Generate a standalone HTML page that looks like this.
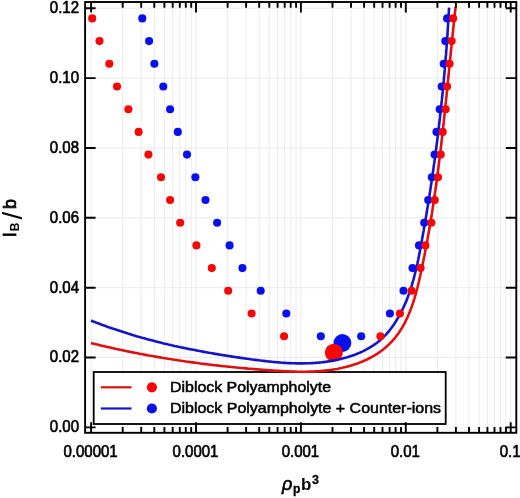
<!DOCTYPE html><html><head><meta charset="utf-8"><style>html,body{margin:0;padding:0;background:#fff;width:520px;height:498px;overflow:hidden}svg{display:block}text{font-family:"Liberation Sans",sans-serif}</style></head><body>
<svg width="520" height="498" viewBox="0 0 520 498">
<path d="M91.1,2.0V432.8M122.7,2.0V432.8M141.2,2.0V432.8M154.3,2.0V432.8M164.4,2.0V432.8M172.7,2.0V432.8M179.8,2.0V432.8M185.8,2.0V432.8M191.2,2.0V432.8M196.0,2.0V432.8M227.6,2.0V432.8M246.1,2.0V432.8M259.2,2.0V432.8M269.3,2.0V432.8M277.6,2.0V432.8M284.7,2.0V432.8M290.7,2.0V432.8M296.1,2.0V432.8M300.9,2.0V432.8M332.5,2.0V432.8M351.0,2.0V432.8M364.1,2.0V432.8M374.2,2.0V432.8M382.5,2.0V432.8M389.6,2.0V432.8M395.6,2.0V432.8M401.0,2.0V432.8M405.8,2.0V432.8M437.4,2.0V432.8M455.9,2.0V432.8M469.0,2.0V432.8M479.1,2.0V432.8M487.4,2.0V432.8M494.5,2.0V432.8M500.5,2.0V432.8M505.9,2.0V432.8M510.7,2.0V432.8M85.1,357.5H516.3M85.1,287.7H516.3M85.1,217.8H516.3M85.1,148.0H516.3M85.1,78.1H516.3M85.1,8.2H516.3" stroke="#ebebeb" stroke-width="1" fill="none"/>
<rect x="93.7" y="372.0" width="352.0" height="52.0" fill="#fff" stroke="#000" stroke-width="1.8"/>
<circle cx="342.4" cy="343.0" r="8.9" fill="#0810ee"/>
<circle cx="333.8" cy="352.7" r="9.0" fill="#f80606"/>
<path d="M90.9,343.0 L92.5,343.4 L94.1,343.8 L95.7,344.2 L97.4,344.6 L99.0,345.0 L100.6,345.4 L102.2,345.8 L103.8,346.1 L105.4,346.5 L107.1,346.9 L108.7,347.2 L110.3,347.6 L111.9,348.0 L113.5,348.3 L115.1,348.7 L116.7,349.0 L118.3,349.4 L120.0,349.7 L121.6,350.1 L123.2,350.4 L124.8,350.7 L126.4,351.1 L128.0,351.4 L129.6,351.7 L131.2,352.1 L132.8,352.4 L134.5,352.7 L136.1,353.0 L137.7,353.3 L139.3,353.7 L140.9,354.0 L142.5,354.3 L144.1,354.6 L145.7,354.9 L147.3,355.2 L148.9,355.5 L150.5,355.7 L152.2,356.0 L153.8,356.3 L155.4,356.6 L157.0,356.9 L158.6,357.2 L160.2,357.4 L161.8,357.7 L163.4,358.0 L165.0,358.2 L166.6,358.5 L168.3,358.8 L169.9,359.0 L171.5,359.3 L173.1,359.5 L174.7,359.8 L176.3,360.0 L177.9,360.3 L179.5,360.5 L181.2,360.8 L182.8,361.0 L184.4,361.2 L186.0,361.5 L187.6,361.7 L189.2,361.9 L190.8,362.2 L192.4,362.4 L194.1,362.6 L195.7,362.8 L197.3,363.0 L198.9,363.2 L200.5,363.5 L202.1,363.7 L203.8,363.9 L205.4,364.1 L207.0,364.3 L208.6,364.5 L210.2,364.7 L211.9,364.9 L213.5,365.1 L215.1,365.2 L216.7,365.4 L218.4,365.6 L220.0,365.8 L221.6,366.0 L223.2,366.2 L224.9,366.3 L226.5,366.5 L228.1,366.7 L229.7,366.8 L231.4,367.0 L233.0,367.2 L234.6,367.3 L236.3,367.5 L237.9,367.7 L239.5,367.8 L241.2,368.0 L242.8,368.1 L244.4,368.3 L246.1,368.4 L247.7,368.6 L249.3,368.7 L251.0,368.8 L252.6,369.0 L254.3,369.1 L255.9,369.3 L257.6,369.4 L259.2,369.5 L260.8,369.6 L262.5,369.8 L264.1,369.9 L265.8,370.0 L267.4,370.1 L269.1,370.3 L270.7,370.4 L272.4,370.5 L274.0,370.6 L275.7,370.7 L277.4,370.8 L279.0,370.9 L280.7,371.0 L282.3,371.1 L284.0,371.2 L285.6,371.3 L287.3,371.4 L289.0,371.4 L290.6,371.5 L292.3,371.5 L293.9,371.6 L295.6,371.6 L297.3,371.7 L298.9,371.7 L300.6,371.7 L302.2,371.7 L303.9,371.7 L305.5,371.7 L307.2,371.7 L308.8,371.6 L310.5,371.6 L312.1,371.5 L313.8,371.5 L315.4,371.4 L317.1,371.3 L318.7,371.2 L320.4,371.1 L322.0,370.9 L323.6,370.8 L325.3,370.6 L326.9,370.4 L328.5,370.2 L330.2,370.0 L331.8,369.8 L333.4,369.5 L335.1,369.2 L336.7,369.0 L338.3,368.7 L339.9,368.3 L341.5,368.0 L343.1,367.6 L344.7,367.2 L346.3,366.8 L347.9,366.4 L349.5,366.0 L351.1,365.5 L352.7,365.0 L354.3,364.5 L355.8,364.0 L357.4,363.4 L358.9,362.9 L360.5,362.3 L362.0,361.7 L363.5,361.0 L365.0,360.4 L366.5,359.7 L368.0,359.0 L369.4,358.2 L370.9,357.5 L372.3,356.7 L373.7,355.9 L375.1,355.1 L376.5,354.2 L377.8,353.3 L379.2,352.4 L380.5,351.5 L381.8,350.5 L383.1,349.6 L384.3,348.6 L385.5,347.5 L386.7,346.5 L387.9,345.4 L389.1,344.3 L390.2,343.2 L391.3,342.0 L392.4,340.9 L393.4,339.7 L394.5,338.5 L395.5,337.3 L396.4,336.0 L397.4,334.7 L398.3,333.5 L399.2,332.2 L400.1,330.8 L400.9,329.5 L401.8,328.2 L402.6,326.8 L403.4,325.4 L404.1,324.0 L404.9,322.6 L405.6,321.1 L406.3,319.7 L407.0,318.2 L407.7,316.8 L408.3,315.3 L409.0,313.8 L409.6,312.3 L410.2,310.8 L410.8,309.2 L411.3,307.7 L411.9,306.2 L412.4,304.6 L413.0,303.0 L413.5,301.5 L414.0,299.9 L414.5,298.3 L414.9,296.7 L415.4,295.1 L415.9,293.5 L416.3,291.9 L416.7,290.2 L417.2,288.6 L417.6,287.0 L418.0,285.3 L418.4,283.7 L418.8,282.1 L419.1,280.4 L419.5,278.8 L419.9,277.1 L420.3,275.5 L420.6,273.8 L421.0,272.2 L421.3,270.6 L421.7,268.9 L422.0,267.3 L422.4,265.6 L422.7,264.0 L423.0,262.3 L423.4,260.7 L423.7,259.1 L424.0,257.4 L424.4,255.8 L424.7,254.2 L425.0,252.5 L425.3,250.9 L425.6,249.3 L425.9,247.6 L426.2,246.0 L426.6,244.4 L426.9,242.7 L427.2,241.1 L427.5,239.5 L427.7,237.8 L428.0,236.2 L428.3,234.6 L428.6,233.0 L428.9,231.3 L429.2,229.7 L429.5,228.1 L429.7,226.5 L430.0,224.9 L430.3,223.2 L430.6,221.6 L430.8,220.0 L431.1,218.4 L431.4,216.8 L431.6,215.1 L431.9,213.5 L432.1,211.9 L432.4,210.3 L432.6,208.7 L432.9,207.1 L433.1,205.4 L433.4,203.8 L433.6,202.2 L433.9,200.6 L434.1,199.0 L434.3,197.4 L434.6,195.8 L434.8,194.2 L435.0,192.5 L435.3,190.9 L435.5,189.3 L435.7,187.7 L436.0,186.1 L436.2,184.5 L436.4,182.9 L436.6,181.3 L436.8,179.7 L437.1,178.1 L437.3,176.5 L437.5,174.8 L437.7,173.2 L437.9,171.6 L438.1,170.0 L438.3,168.4 L438.5,166.8 L438.7,165.2 L438.9,163.6 L439.1,162.0 L439.3,160.4 L439.5,158.8 L439.7,157.2 L439.9,155.5 L440.1,153.9 L440.3,152.3 L440.5,150.7 L440.7,149.1 L440.9,147.5 L441.1,145.9 L441.3,144.3 L441.4,142.7 L441.6,141.1 L441.8,139.5 L442.0,137.9 L442.2,136.2 L442.4,134.6 L442.5,133.0 L442.7,131.4 L442.9,129.8 L443.1,128.2 L443.2,126.6 L443.4,125.0 L443.6,123.4 L443.8,121.7 L443.9,120.1 L444.1,118.5 L444.3,116.9 L444.5,115.3 L444.6,113.7 L444.8,112.1 L445.0,110.4 L445.1,108.8 L445.3,107.2 L445.5,105.6 L445.6,104.0 L445.8,102.4 L446.0,100.7 L446.1,99.1 L446.3,97.5 L446.5,95.9 L446.6,94.3 L446.8,92.6 L447.0,91.0 L447.1,89.4 L447.3,87.8 L447.4,86.1 L447.6,84.5 L447.8,82.9 L447.9,81.3 L448.1,79.6 L448.3,78.0 L448.4,76.4 L448.6,74.7 L448.8,73.1 L448.9,71.5 L449.1,69.8 L449.2,68.2 L449.4,66.6 L449.6,64.9 L449.7,63.3 L449.9,61.7 L450.1,60.0 L450.2,58.4 L450.4,56.7 L450.6,55.1 L450.7,53.4 L450.9,51.8 L451.0,50.2 L451.2,48.5 L451.4,46.9 L451.5,45.2 L451.7,43.6 L451.9,41.9 L452.0,40.3 L452.2,38.6 L452.4,36.9 L452.6,35.3 L452.7,33.6 L452.9,32.0 L453.1,30.3 L453.2,28.6 L453.4,27.0 L453.6,25.3 L453.8,23.7 L453.9,22.0 L454.1,20.3 L454.3,18.6 L454.5,17.0 L454.7,15.3 L454.8,13.6 L455.0,11.9 L455.2,10.3 L455.4,8.6 L455.6,6.9" stroke="#e01010" stroke-width="2.6" fill="none" stroke-linejoin="round"/>
<path d="M91.0,320.5 L92.5,321.2 L94.1,321.8 L95.6,322.4 L97.2,322.9 L98.7,323.5 L100.2,324.1 L101.8,324.7 L103.3,325.2 L104.9,325.8 L106.4,326.4 L107.9,326.9 L109.5,327.5 L111.0,328.0 L112.6,328.5 L114.1,329.1 L115.6,329.6 L117.2,330.1 L118.7,330.6 L120.3,331.1 L121.8,331.6 L123.3,332.1 L124.9,332.6 L126.4,333.1 L128.0,333.6 L129.5,334.0 L131.1,334.5 L132.6,335.0 L134.1,335.4 L135.7,335.9 L137.2,336.4 L138.8,336.8 L140.3,337.2 L141.9,337.7 L143.4,338.1 L145.0,338.5 L146.5,339.0 L148.1,339.4 L149.6,339.8 L151.2,340.2 L152.7,340.6 L154.3,341.0 L155.8,341.4 L157.4,341.8 L158.9,342.2 L160.5,342.6 L162.0,343.0 L163.6,343.4 L165.1,343.7 L166.7,344.1 L168.2,344.5 L169.8,344.8 L171.4,345.2 L172.9,345.5 L174.5,345.9 L176.0,346.2 L177.6,346.6 L179.2,346.9 L180.7,347.3 L182.3,347.6 L183.9,347.9 L185.4,348.2 L187.0,348.6 L188.6,348.9 L190.1,349.2 L191.7,349.5 L193.3,349.8 L194.8,350.1 L196.4,350.4 L198.0,350.7 L199.6,351.0 L201.1,351.3 L202.7,351.6 L204.3,351.9 L205.9,352.2 L207.5,352.5 L209.0,352.8 L210.6,353.0 L212.2,353.3 L213.8,353.6 L215.4,353.9 L217.0,354.1 L218.6,354.4 L220.1,354.7 L221.7,354.9 L223.3,355.2 L224.9,355.4 L226.5,355.7 L228.1,355.9 L229.7,356.2 L231.3,356.4 L232.9,356.7 L234.5,356.9 L236.1,357.2 L237.7,357.4 L239.4,357.6 L241.0,357.9 L242.6,358.1 L244.2,358.3 L245.8,358.6 L247.4,358.8 L249.0,359.0 L250.7,359.3 L252.3,359.5 L253.9,359.7 L255.5,359.9 L257.1,360.1 L258.8,360.3 L260.4,360.5 L262.0,360.7 L263.6,360.9 L265.3,361.1 L266.9,361.3 L268.5,361.5 L270.2,361.6 L271.8,361.8 L273.4,362.0 L275.0,362.1 L276.7,362.3 L278.3,362.4 L279.9,362.5 L281.6,362.7 L283.2,362.8 L284.8,362.9 L286.4,363.0 L288.1,363.1 L289.7,363.1 L291.3,363.2 L292.9,363.3 L294.6,363.3 L296.2,363.4 L297.8,363.4 L299.4,363.4 L301.1,363.4 L302.7,363.4 L304.3,363.4 L305.9,363.3 L307.5,363.3 L309.1,363.2 L310.7,363.2 L312.4,363.1 L314.0,363.0 L315.6,362.9 L317.2,362.8 L318.8,362.6 L320.4,362.5 L322.0,362.3 L323.6,362.1 L325.2,361.9 L326.7,361.7 L328.3,361.4 L329.9,361.2 L331.5,360.9 L333.1,360.6 L334.6,360.3 L336.2,360.0 L337.8,359.7 L339.4,359.3 L340.9,359.0 L342.5,358.6 L344.0,358.1 L345.6,357.7 L347.1,357.3 L348.7,356.8 L350.2,356.3 L351.7,355.8 L353.3,355.2 L354.8,354.7 L356.3,354.1 L357.8,353.5 L359.3,352.9 L360.8,352.2 L362.2,351.6 L363.7,350.9 L365.1,350.2 L366.5,349.4 L367.9,348.6 L369.3,347.8 L370.7,347.0 L372.0,346.2 L373.4,345.3 L374.7,344.4 L376.0,343.5 L377.3,342.5 L378.5,341.6 L379.7,340.5 L380.9,339.5 L382.1,338.4 L383.3,337.3 L384.4,336.2 L385.5,335.1 L386.6,333.9 L387.6,332.7 L388.7,331.5 L389.7,330.2 L390.6,329.0 L391.6,327.7 L392.5,326.4 L393.5,325.1 L394.4,323.8 L395.2,322.4 L396.1,321.1 L396.9,319.7 L397.7,318.3 L398.5,317.0 L399.3,315.6 L400.1,314.2 L400.8,312.8 L401.6,311.4 L402.3,309.9 L403.0,308.5 L403.6,307.1 L404.3,305.6 L404.9,304.1 L405.6,302.7 L406.2,301.2 L406.8,299.7 L407.4,298.2 L407.9,296.7 L408.5,295.2 L409.0,293.7 L409.6,292.2 L410.1,290.7 L410.6,289.2 L411.1,287.6 L411.6,286.1 L412.0,284.5 L412.5,283.0 L412.9,281.4 L413.4,279.9 L413.8,278.3 L414.2,276.8 L414.6,275.2 L415.0,273.6 L415.4,272.0 L415.8,270.4 L416.2,268.9 L416.5,267.3 L416.9,265.7 L417.3,264.1 L417.6,262.5 L417.9,260.9 L418.3,259.3 L418.6,257.7 L418.9,256.1 L419.2,254.5 L419.6,252.9 L419.9,251.3 L420.2,249.6 L420.5,248.0 L420.8,246.4 L421.1,244.8 L421.4,243.2 L421.7,241.6 L422.0,240.0 L422.2,238.4 L422.5,236.8 L422.8,235.2 L423.1,233.6 L423.4,232.0 L423.7,230.4 L423.9,228.8 L424.2,227.1 L424.5,225.5 L424.8,223.9 L425.0,222.3 L425.3,220.7 L425.6,219.1 L425.9,217.5 L426.1,215.9 L426.4,214.4 L426.7,212.8 L426.9,211.2 L427.2,209.6 L427.4,208.0 L427.7,206.4 L428.0,204.8 L428.2,203.2 L428.5,201.6 L428.7,200.0 L429.0,198.4 L429.2,196.8 L429.5,195.2 L429.7,193.6 L430.0,192.0 L430.2,190.4 L430.5,188.9 L430.7,187.3 L430.9,185.7 L431.2,184.1 L431.4,182.5 L431.7,180.9 L431.9,179.3 L432.1,177.7 L432.4,176.1 L432.6,174.6 L432.8,173.0 L433.0,171.4 L433.3,169.8 L433.5,168.2 L433.7,166.6 L433.9,165.0 L434.2,163.4 L434.4,161.8 L434.6,160.3 L434.8,158.7 L435.0,157.1 L435.2,155.5 L435.5,153.9 L435.7,152.3 L435.9,150.7 L436.1,149.2 L436.3,147.6 L436.5,146.0 L436.7,144.4 L436.9,142.8 L437.1,141.2 L437.3,139.6 L437.5,138.0 L437.7,136.5 L437.9,134.9 L438.1,133.3 L438.3,131.7 L438.5,130.1 L438.7,128.5 L438.9,126.9 L439.1,125.3 L439.2,123.7 L439.4,122.2 L439.6,120.6 L439.8,119.0 L440.0,117.4 L440.1,115.8 L440.3,114.2 L440.5,112.6 L440.7,111.0 L440.9,109.4 L441.0,107.8 L441.2,106.2 L441.4,104.6 L441.5,103.0 L441.7,101.5 L441.9,99.9 L442.0,98.3 L442.2,96.7 L442.4,95.1 L442.5,93.5 L442.7,91.9 L442.8,90.3 L443.0,88.7 L443.1,87.1 L443.3,85.5 L443.5,83.9 L443.6,82.3 L443.8,80.7 L443.9,79.1 L444.0,77.5 L444.2,75.9 L444.3,74.2 L444.5,72.6 L444.6,71.0 L444.8,69.4 L444.9,67.8 L445.0,66.2 L445.2,64.6 L445.3,63.0 L445.4,61.4 L445.6,59.8 L445.7,58.1 L445.8,56.5 L446.0,54.9 L446.1,53.3 L446.2,51.7 L446.3,50.1 L446.5,48.4 L446.6,46.8 L446.7,45.2 L446.8,43.6 L446.9,42.0 L447.0,40.3 L447.2,38.7 L447.3,37.1 L447.4,35.5 L447.5,33.8 L447.6,32.2 L447.7,30.6 L447.8,28.9 L447.9,27.3 L448.0,25.7 L448.1,24.0 L448.2,22.4 L448.3,20.8 L448.4,19.1 L448.5,17.5 L448.6,15.8 L448.7,14.2 L448.8,12.6 L448.9,10.9 L449.0,9.3 L449.1,7.6" stroke="#1414cc" stroke-width="2.6" fill="none" stroke-linejoin="round"/>
<circle cx="320.8" cy="336.2" r="4.05" fill="#0810ee"/><circle cx="286.3" cy="313.5" r="4.05" fill="#0810ee"/><circle cx="260.7" cy="290.8" r="4.05" fill="#0810ee"/><circle cx="242.4" cy="268.1" r="4.05" fill="#0810ee"/><circle cx="229.6" cy="245.4" r="4.05" fill="#0810ee"/><circle cx="217.1" cy="222.7" r="4.05" fill="#0810ee"/><circle cx="205.5" cy="200.0" r="4.05" fill="#0810ee"/><circle cx="195.4" cy="177.3" r="4.05" fill="#0810ee"/><circle cx="187.0" cy="154.6" r="4.05" fill="#0810ee"/><circle cx="177.8" cy="131.9" r="4.05" fill="#0810ee"/><circle cx="170.1" cy="109.2" r="4.05" fill="#0810ee"/><circle cx="163.3" cy="86.5" r="4.05" fill="#0810ee"/><circle cx="154.4" cy="63.8" r="4.05" fill="#0810ee"/><circle cx="149.1" cy="41.1" r="4.05" fill="#0810ee"/><circle cx="142.3" cy="18.4" r="4.05" fill="#0810ee"/><circle cx="361.2" cy="336.2" r="4.05" fill="#0810ee"/><circle cx="389.9" cy="313.5" r="4.05" fill="#0810ee"/><circle cx="403.5" cy="290.8" r="4.05" fill="#0810ee"/><circle cx="412.5" cy="268.1" r="4.05" fill="#0810ee"/><circle cx="419.0" cy="245.4" r="4.05" fill="#0810ee"/><circle cx="424.2" cy="222.7" r="4.05" fill="#0810ee"/><circle cx="428.2" cy="200.0" r="4.05" fill="#0810ee"/><circle cx="431.8" cy="177.3" r="4.05" fill="#0810ee"/><circle cx="434.6" cy="154.6" r="4.05" fill="#0810ee"/><circle cx="436.5" cy="131.9" r="4.05" fill="#0810ee"/><circle cx="439.7" cy="109.2" r="4.05" fill="#0810ee"/><circle cx="441.7" cy="86.5" r="4.05" fill="#0810ee"/><circle cx="443.7" cy="63.8" r="4.05" fill="#0810ee"/><circle cx="445.3" cy="41.1" r="4.05" fill="#0810ee"/><circle cx="447.1" cy="18.4" r="4.05" fill="#0810ee"/><circle cx="284.1" cy="336.2" r="4.05" fill="#f80606"/><circle cx="251.6" cy="313.5" r="4.05" fill="#f80606"/><circle cx="228.2" cy="290.8" r="4.05" fill="#f80606"/><circle cx="211.8" cy="268.1" r="4.05" fill="#f80606"/><circle cx="196.4" cy="245.4" r="4.05" fill="#f80606"/><circle cx="180.2" cy="222.7" r="4.05" fill="#f80606"/><circle cx="170.1" cy="200.0" r="4.05" fill="#f80606"/><circle cx="161.0" cy="177.3" r="4.05" fill="#f80606"/><circle cx="148.4" cy="154.6" r="4.05" fill="#f80606"/><circle cx="138.6" cy="131.9" r="4.05" fill="#f80606"/><circle cx="128.4" cy="109.2" r="4.05" fill="#f80606"/><circle cx="117.0" cy="86.5" r="4.05" fill="#f80606"/><circle cx="109.3" cy="63.8" r="4.05" fill="#f80606"/><circle cx="99.5" cy="41.1" r="4.05" fill="#f80606"/><circle cx="92.2" cy="18.4" r="4.05" fill="#f80606"/><circle cx="380.4" cy="336.2" r="4.05" fill="#f80606"/><circle cx="399.9" cy="313.5" r="4.05" fill="#f80606"/><circle cx="411.6" cy="290.8" r="4.05" fill="#f80606"/><circle cx="420.6" cy="268.1" r="4.05" fill="#f80606"/><circle cx="425.4" cy="245.4" r="4.05" fill="#f80606"/><circle cx="431.4" cy="222.7" r="4.05" fill="#f80606"/><circle cx="434.8" cy="200.0" r="4.05" fill="#f80606"/><circle cx="438.0" cy="177.3" r="4.05" fill="#f80606"/><circle cx="440.8" cy="154.6" r="4.05" fill="#f80606"/><circle cx="442.7" cy="131.9" r="4.05" fill="#f80606"/><circle cx="445.7" cy="109.2" r="4.05" fill="#f80606"/><circle cx="447.1" cy="86.5" r="4.05" fill="#f80606"/><circle cx="449.6" cy="63.8" r="4.05" fill="#f80606"/><circle cx="451.6" cy="41.1" r="4.05" fill="#f80606"/><circle cx="453.1" cy="18.4" r="4.05" fill="#f80606"/>
<path d="M100.8,387.3H131.5" stroke="#e01010" stroke-width="2.2"/><circle cx="151.9" cy="387.3" r="5.1" fill="#f80606"/>
<path d="M100.8,408.5H131.5" stroke="#1414cc" stroke-width="2.2"/><circle cx="151.9" cy="408.5" r="5.1" fill="#0810ee"/>
<text x="170.0" y="392.3" font-size="14.4" stroke="#000" stroke-width="0.5" textLength="161" lengthAdjust="spacingAndGlyphs">Diblock Polyampholyte</text>
<text x="170.0" y="413.2" font-size="14.4" stroke="#000" stroke-width="0.5" textLength="271" lengthAdjust="spacingAndGlyphs">Diblock Polyampholyte + Counter-ions</text>
<rect x="85.1" y="2.0" width="431.2" height="430.8" fill="none" stroke="#000" stroke-width="1.9"/>
<path d="M85.1,427.4h10.5M516.3,427.4h-10.5M85.1,357.5h10.5M516.3,357.5h-10.5M85.1,287.7h10.5M516.3,287.7h-10.5M85.1,217.8h10.5M516.3,217.8h-10.5M85.1,148.0h10.5M516.3,148.0h-10.5M85.1,78.1h10.5M516.3,78.1h-10.5M85.1,8.2h10.5M516.3,8.2h-10.5M91.1,432.8v-10.5M91.1,2.0v10.5M122.7,432.8v-5.7M122.7,2.0v5.7M141.2,432.8v-5.7M141.2,2.0v5.7M154.3,432.8v-5.7M154.3,2.0v5.7M164.4,432.8v-5.7M164.4,2.0v5.7M172.7,432.8v-5.7M172.7,2.0v5.7M179.8,432.8v-5.7M179.8,2.0v5.7M185.8,432.8v-5.7M185.8,2.0v5.7M191.2,432.8v-5.7M191.2,2.0v5.7M196.0,432.8v-10.5M196.0,2.0v10.5M227.6,432.8v-5.7M227.6,2.0v5.7M246.1,432.8v-5.7M246.1,2.0v5.7M259.2,432.8v-5.7M259.2,2.0v5.7M269.3,432.8v-5.7M269.3,2.0v5.7M277.6,432.8v-5.7M277.6,2.0v5.7M284.7,432.8v-5.7M284.7,2.0v5.7M290.7,432.8v-5.7M290.7,2.0v5.7M296.1,432.8v-5.7M296.1,2.0v5.7M300.9,432.8v-10.5M300.9,2.0v10.5M332.5,432.8v-5.7M332.5,2.0v5.7M351.0,432.8v-5.7M351.0,2.0v5.7M364.1,432.8v-5.7M364.1,2.0v5.7M374.2,432.8v-5.7M374.2,2.0v5.7M382.5,432.8v-5.7M382.5,2.0v5.7M389.6,432.8v-5.7M389.6,2.0v5.7M395.6,432.8v-5.7M395.6,2.0v5.7M401.0,432.8v-5.7M401.0,2.0v5.7M405.8,432.8v-10.5M405.8,2.0v10.5M437.4,432.8v-5.7M437.4,2.0v5.7M455.9,432.8v-5.7M455.9,2.0v5.7M469.0,432.8v-5.7M469.0,2.0v5.7M479.1,432.8v-5.7M479.1,2.0v5.7M487.4,432.8v-5.7M487.4,2.0v5.7M494.5,432.8v-5.7M494.5,2.0v5.7M500.5,432.8v-5.7M500.5,2.0v5.7M505.9,432.8v-5.7M505.9,2.0v5.7M510.7,432.8v-10.5M510.7,2.0v10.5M510.7,432.8v-10.5M510.7,2.0v10.5" stroke="#000" stroke-width="1.9" fill="none"/>
<text transform="translate(79.0,432.3) scale(1,1.07)" font-size="15" stroke="#000" stroke-width="0.6" text-anchor="end">0.00</text>
<text transform="translate(79.0,362.4) scale(1,1.07)" font-size="15" stroke="#000" stroke-width="0.6" text-anchor="end">0.02</text>
<text transform="translate(79.0,292.6) scale(1,1.07)" font-size="15" stroke="#000" stroke-width="0.6" text-anchor="end">0.04</text>
<text transform="translate(79.0,222.7) scale(1,1.07)" font-size="15" stroke="#000" stroke-width="0.6" text-anchor="end">0.06</text>
<text transform="translate(79.0,152.9) scale(1,1.07)" font-size="15" stroke="#000" stroke-width="0.6" text-anchor="end">0.08</text>
<text transform="translate(79.0,83.0) scale(1,1.07)" font-size="15" stroke="#000" stroke-width="0.6" text-anchor="end">0.10</text>
<text transform="translate(79.0,13.1) scale(1,1.07)" font-size="15" stroke="#000" stroke-width="0.6" text-anchor="end">0.12</text>
<text transform="translate(90.6,457.2) scale(1,1.07)" font-size="15" stroke="#000" stroke-width="0.6" text-anchor="middle">0.00001</text>
<text transform="translate(195.5,457.2) scale(1,1.07)" font-size="15" stroke="#000" stroke-width="0.6" text-anchor="middle">0.0001</text>
<text transform="translate(300.4,457.2) scale(1,1.07)" font-size="15" stroke="#000" stroke-width="0.6" text-anchor="middle">0.001</text>
<text transform="translate(405.3,457.2) scale(1,1.07)" font-size="15" stroke="#000" stroke-width="0.6" text-anchor="middle">0.01</text>
<text transform="translate(510.2,457.2) scale(1,1.07)" font-size="15" stroke="#000" stroke-width="0.6" text-anchor="middle">0.1</text>
<g transform="rotate(-90)">
<text x="-236.7" y="15.9" font-size="18" stroke="#000" stroke-width="0.7">l</text>
<text x="-231.2" y="19.4" font-size="12" font-weight="bold">B</text>
<text x="-219.4" y="22.0" font-size="28">/</text>
<text x="-208.9" y="15.9" font-size="18" stroke="#000" stroke-width="0.7">b</text>
</g>
<text x="282.0" y="489.8" font-size="18" font-style="italic" stroke="#000" stroke-width="0.6">ρ</text>
<text x="293.0" y="493.3" font-size="12.2" font-weight="bold" stroke="#000" stroke-width="0.3">p</text>
<text x="301.0" y="489.6" font-size="17" font-weight="bold">b</text>
<text x="312.0" y="484.4" font-size="12.5" font-weight="bold" stroke="#000" stroke-width="0.3">3</text>
</svg></body></html>
